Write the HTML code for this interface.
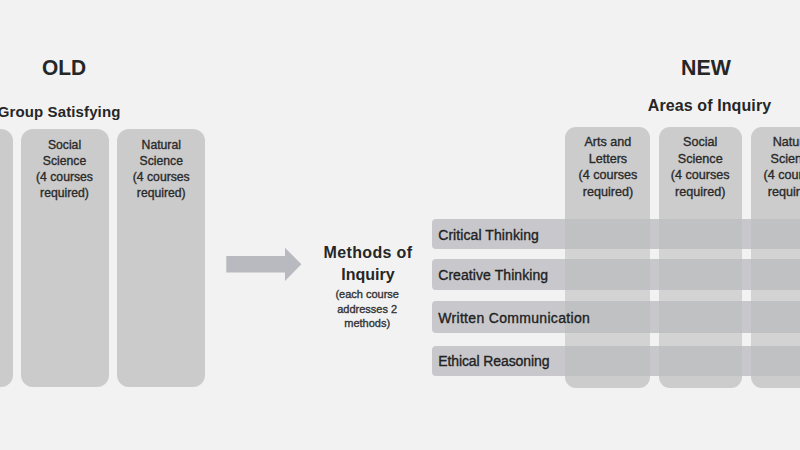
<!DOCTYPE html>
<html><head><meta charset="utf-8"><style>
html,body{margin:0;padding:0;}
body{width:800px;height:450px;overflow:hidden;position:relative;background:#f2f2f2;font-family:"Liberation Sans",sans-serif;}
.t{position:absolute;line-height:1;white-space:nowrap;-webkit-text-stroke:0.35px currentColor;}
.b{position:absolute;}
</style></head><body>
<div class="t" style="left:-85.70px;top:56.68px;width:300px;text-align:center;font-size:22px;font-weight:bold;color:#262626;letter-spacing:0px;transform:scaleX(0.95);transform-origin:50% 50%;-webkit-text-stroke:0;">OLD</div>
<div class="t" style="left:-2.30px;top:104.30px;font-size:15px;font-weight:bold;color:#262626;letter-spacing:0.12px;-webkit-text-stroke:0;">Group Satisfying</div>
<div class="b" style="left:-75px;top:129.3px;width:87.5px;height:257.7px;background:#cbcbcb;border-radius:12px;"></div>
<div class="b" style="left:20.5px;top:129.3px;width:88.1px;height:257.7px;background:#cbcbcb;border-radius:12px;"></div>
<div class="b" style="left:117.2px;top:129.3px;width:88.10000000000001px;height:257.7px;background:#cbcbcb;border-radius:12px;"></div>
<div class="t" style="left:-85.50px;top:138.67px;width:300px;text-align:center;font-size:12.2px;font-weight:normal;color:#2a2a2a;letter-spacing:0px;">Social</div>
<div class="t" style="left:-85.50px;top:154.87px;width:300px;text-align:center;font-size:12.2px;font-weight:normal;color:#2a2a2a;letter-spacing:0px;">Science</div>
<div class="t" style="left:-85.50px;top:171.07px;width:300px;text-align:center;font-size:12.2px;font-weight:normal;color:#2a2a2a;letter-spacing:0px;">(4 courses</div>
<div class="t" style="left:-85.50px;top:187.27px;width:300px;text-align:center;font-size:12.2px;font-weight:normal;color:#2a2a2a;letter-spacing:0px;">required)</div>
<div class="t" style="left:11.25px;top:138.67px;width:300px;text-align:center;font-size:12.2px;font-weight:normal;color:#2a2a2a;letter-spacing:0px;">Natural</div>
<div class="t" style="left:11.25px;top:154.87px;width:300px;text-align:center;font-size:12.2px;font-weight:normal;color:#2a2a2a;letter-spacing:0px;">Science</div>
<div class="t" style="left:11.25px;top:171.07px;width:300px;text-align:center;font-size:12.2px;font-weight:normal;color:#2a2a2a;letter-spacing:0px;">(4 courses</div>
<div class="t" style="left:11.25px;top:187.27px;width:300px;text-align:center;font-size:12.2px;font-weight:normal;color:#2a2a2a;letter-spacing:0px;">required)</div>
<svg class="b" style="left:0;top:0" width="800" height="450"><path d="M226.3 256 H285 V247.7 L301.4 264.3 L285 281 V272.6 H226.3 Z" fill="#b9babf"/></svg>
<div class="t" style="left:218.00px;top:245.46px;width:300px;text-align:center;font-size:16px;font-weight:bold;color:#262626;letter-spacing:0.35px;-webkit-text-stroke:0;">Methods of</div>
<div class="t" style="left:218.00px;top:267.46px;width:300px;text-align:center;font-size:16px;font-weight:bold;color:#262626;letter-spacing:0px;-webkit-text-stroke:0;">Inquiry</div>
<div class="t" style="left:217.20px;top:288.69px;width:300px;text-align:center;font-size:11px;font-weight:normal;color:#333333;letter-spacing:0px;">(each course</div>
<div class="t" style="left:217.20px;top:303.59px;width:300px;text-align:center;font-size:11px;font-weight:normal;color:#333333;letter-spacing:0px;">addresses 2</div>
<div class="t" style="left:217.20px;top:318.49px;width:300px;text-align:center;font-size:11px;font-weight:normal;color:#333333;letter-spacing:0px;">methods)</div>
<div class="t" style="left:556.00px;top:56.88px;width:300px;text-align:center;font-size:22px;font-weight:bold;color:#262626;letter-spacing:0px;transform:scaleX(0.97);transform-origin:50% 50%;-webkit-text-stroke:0;">NEW</div>
<div class="t" style="left:559.50px;top:98.46px;width:300px;text-align:center;font-size:16px;font-weight:bold;color:#262626;letter-spacing:0.1px;-webkit-text-stroke:0;">Areas of Inquiry</div>
<div class="b" style="left:565.3px;top:126.5px;width:85.20000000000005px;height:261.0px;background:#cccccc;border-radius:11px;"></div>
<div class="b" style="left:658.5px;top:126.5px;width:83.5px;height:261.0px;background:#cccccc;border-radius:11px;"></div>
<div class="b" style="left:751px;top:126.5px;width:84px;height:261.0px;background:#cccccc;border-radius:11px;"></div>
<div class="t" style="left:457.90px;top:136.03px;width:300px;text-align:center;font-size:12.6px;font-weight:normal;color:#2a2a2a;letter-spacing:0px;">Arts and</div>
<div class="t" style="left:457.90px;top:152.53px;width:300px;text-align:center;font-size:12.6px;font-weight:normal;color:#2a2a2a;letter-spacing:0px;">Letters</div>
<div class="t" style="left:457.90px;top:169.03px;width:300px;text-align:center;font-size:12.6px;font-weight:normal;color:#2a2a2a;letter-spacing:0px;">(4 courses</div>
<div class="t" style="left:457.90px;top:185.53px;width:300px;text-align:center;font-size:12.6px;font-weight:normal;color:#2a2a2a;letter-spacing:0px;">required)</div>
<div class="t" style="left:550.25px;top:136.03px;width:300px;text-align:center;font-size:12.6px;font-weight:normal;color:#2a2a2a;letter-spacing:0px;">Social</div>
<div class="t" style="left:550.25px;top:152.53px;width:300px;text-align:center;font-size:12.6px;font-weight:normal;color:#2a2a2a;letter-spacing:0px;">Science</div>
<div class="t" style="left:550.25px;top:169.03px;width:300px;text-align:center;font-size:12.6px;font-weight:normal;color:#2a2a2a;letter-spacing:0px;">(4 courses</div>
<div class="t" style="left:550.25px;top:185.53px;width:300px;text-align:center;font-size:12.6px;font-weight:normal;color:#2a2a2a;letter-spacing:0px;">required)</div>
<div class="t" style="left:643.00px;top:136.03px;width:300px;text-align:center;font-size:12.6px;font-weight:normal;color:#2a2a2a;letter-spacing:0px;">Natural</div>
<div class="t" style="left:643.00px;top:152.53px;width:300px;text-align:center;font-size:12.6px;font-weight:normal;color:#2a2a2a;letter-spacing:0px;">Science</div>
<div class="t" style="left:643.00px;top:169.03px;width:300px;text-align:center;font-size:12.6px;font-weight:normal;color:#2a2a2a;letter-spacing:0px;">(4 courses</div>
<div class="t" style="left:643.00px;top:185.53px;width:300px;text-align:center;font-size:12.6px;font-weight:normal;color:#2a2a2a;letter-spacing:0px;">required)</div>
<div class="b" style="left:565.3px;top:249px;width:85.20000000000005px;height:10px;background:#d3d3d3;border-radius:0px;"></div>
<div class="b" style="left:565.3px;top:289.5px;width:85.20000000000005px;height:11.899999999999977px;background:#d3d3d3;border-radius:0px;"></div>
<div class="b" style="left:565.3px;top:332.8px;width:85.20000000000005px;height:12.800000000000011px;background:#d3d3d3;border-radius:0px;"></div>
<div class="b" style="left:658.5px;top:249px;width:83.5px;height:10px;background:#d3d3d3;border-radius:0px;"></div>
<div class="b" style="left:658.5px;top:289.5px;width:83.5px;height:11.899999999999977px;background:#d3d3d3;border-radius:0px;"></div>
<div class="b" style="left:658.5px;top:332.8px;width:83.5px;height:12.800000000000011px;background:#d3d3d3;border-radius:0px;"></div>
<div class="b" style="left:751px;top:249px;width:84px;height:10px;background:#d3d3d3;border-radius:0px;"></div>
<div class="b" style="left:751px;top:289.5px;width:84px;height:11.899999999999977px;background:#d3d3d3;border-radius:0px;"></div>
<div class="b" style="left:751px;top:332.8px;width:84px;height:12.800000000000011px;background:#d3d3d3;border-radius:0px;"></div>
<div class="b" style="left:432px;top:219px;width:398px;height:30px;background:#c8c8cc;border-radius:4px;"></div>
<div class="b" style="left:565.3px;top:219px;width:85.20000000000005px;height:30px;background:#c0c1c3;border-radius:0px;"></div>
<div class="b" style="left:658.5px;top:219px;width:83.5px;height:30px;background:#c0c1c3;border-radius:0px;"></div>
<div class="b" style="left:751px;top:219px;width:84px;height:30px;background:#c0c1c3;border-radius:0px;"></div>
<div class="b" style="left:432px;top:259px;width:398px;height:30.5px;background:#c8c8cc;border-radius:4px;"></div>
<div class="b" style="left:565.3px;top:259px;width:85.20000000000005px;height:30.5px;background:#c0c1c3;border-radius:0px;"></div>
<div class="b" style="left:658.5px;top:259px;width:83.5px;height:30.5px;background:#c0c1c3;border-radius:0px;"></div>
<div class="b" style="left:751px;top:259px;width:84px;height:30.5px;background:#c0c1c3;border-radius:0px;"></div>
<div class="b" style="left:432px;top:301.4px;width:398px;height:31.400000000000034px;background:#c8c8cc;border-radius:4px;"></div>
<div class="b" style="left:565.3px;top:301.4px;width:85.20000000000005px;height:31.400000000000034px;background:#c0c1c3;border-radius:0px;"></div>
<div class="b" style="left:658.5px;top:301.4px;width:83.5px;height:31.400000000000034px;background:#c0c1c3;border-radius:0px;"></div>
<div class="b" style="left:751px;top:301.4px;width:84px;height:31.400000000000034px;background:#c0c1c3;border-radius:0px;"></div>
<div class="b" style="left:432px;top:345.6px;width:398px;height:30.899999999999977px;background:#c8c8cc;border-radius:4px;"></div>
<div class="b" style="left:565.3px;top:345.6px;width:85.20000000000005px;height:30.899999999999977px;background:#c0c1c3;border-radius:0px;"></div>
<div class="b" style="left:658.5px;top:345.6px;width:83.5px;height:30.899999999999977px;background:#c0c1c3;border-radius:0px;"></div>
<div class="b" style="left:751px;top:345.6px;width:84px;height:30.899999999999977px;background:#c0c1c3;border-radius:0px;"></div>
<div class="t" style="left:438.20px;top:227.85px;font-size:14px;font-weight:normal;color:#222222;letter-spacing:0.08px;">Critical Thinking</div>
<div class="t" style="left:438.20px;top:268.15px;font-size:14px;font-weight:normal;color:#222222;letter-spacing:0.08px;">Creative Thinking</div>
<div class="t" style="left:438.20px;top:311.15px;font-size:14px;font-weight:normal;color:#222222;letter-spacing:0.32px;">Written Communication</div>
<div class="t" style="left:438.20px;top:353.95px;font-size:14px;font-weight:normal;color:#222222;letter-spacing:-0.1px;">Ethical Reasoning</div>
</body></html>
